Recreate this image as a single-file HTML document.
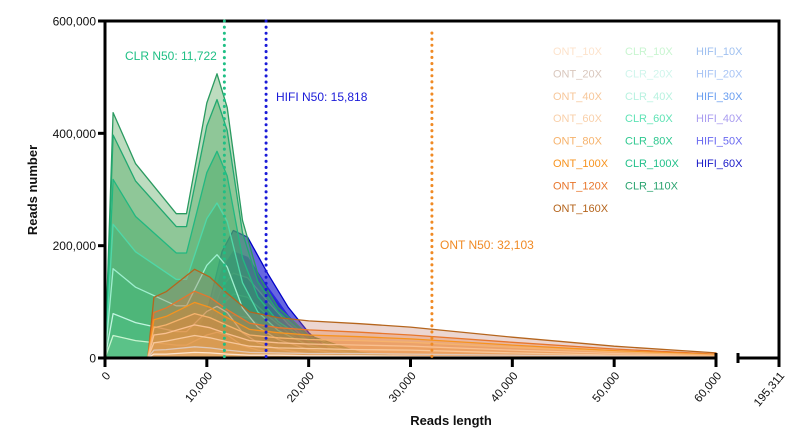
<!DOCTYPE html>
<html><head><meta charset="utf-8"><style>
body{margin:0;background:#fff;}
svg{display:block;font-family:"Liberation Sans",Arial,sans-serif;}
</style></head><body>
<svg id="chart" width="802" height="437" viewBox="0 0 802 437">
<g id="areas"></g>
<g id="axes"></g>
<g id="ann"></g>
<g id="legend"></g>
</svg>
<script>
// ---- data (values in thousands of reads) ----
const clrX = [0,800,3000,7000,8000,10000,11000,12000,13500,15000,17000,20000,25000,30000];
const clr110 = [0,437,346,257,257,454,506,446,245,150,90,40,10,0];
const clr100 = [0,397,315,234,234,413,460,405,223,136,82,36,9,0];
const clr80 = [0,318,252,187,187,330,368,324,178,109,65,29,7,0];
const clr60 = [0,238,189,140,140,248,276,243,134,82,49,22,5,0];
const clr40 = [0,159,126,93,93,165,184,162,89,55,33,15,4,0];
const clr20 = [0,79,63,47,47,83,92,81,45,27,16,7,2,0];
const clr10 = [0,40,31,23,23,41,46,41,22,14,8,4,1,0];

const ontX = [0,4200,4800,6000,8800,10300,12000,14200,17000,20000,25000,30000,40000,50000,60000,60000];
const ont160 = [0,0,108,118,158,144,115,82,72,66,61,55,37,21,9,0];
const ont120 = [0,0,81,89,119,108,86,62,54,50,46,41,28,16,7,0];
const ont100 = [0,0,68,74,99,90,72,51,45,41,38,34,23,13,6,0];
const ont80 = [0,0,54,59,79,72,58,41,36,33,31,28,19,11,5,0];
const ont60 = [0,0,41,44,59,54,43,31,27,25,23,21,14,8,3,0];
const ont40 = [0,0,27,30,40,36,29,21,18,17,15,14,9,5,2,0];
const ont20 = [0,0,14,15,20,18,14,10,9,8,8,7,5,3,1,0];
const ont10 = [0,0,7,7,10,9,7,5,5,4,4,3,2,1,1,0];

const hifiX = [8000,10000,11500,12600,14000,16000,18000,20000,22000,25000];
const hifi60 = [0,80,190,227,215,150,90,45,15,0];
const hifi50 = [0,67,158,189,179,125,75,38,12,0];
const hifi40 = [0,53,127,151,143,100,60,30,10,0];
const hifi30 = [0,40,95,114,108,75,45,23,8,0];
const hifi20 = [0,27,63,76,72,50,30,15,5,0];
const hifi10 = [0,13,32,38,36,25,15,8,3,0];

const yTicks = [0,200000,400000,600000];
const yTickLabels = ["0","200,000","400,000","600,000"];
const xTicks = [0,10000,20000,30000,40000,50000,60000,195311];
const xTickLabels = ["0","10,000","20,000","30,000","40,000","50,000","60,000","195,311"];
const n50Values = [11722,15818,32103];
const n50Labels = ["CLR  N50: 11,722","HIFI N50: 15,818","ONT N50: 32,103"];

const legendCols = [
 [["ONT_10X","#fde3cc"],["ONT_20X","#d9c7bd"],["ONT_40X","#f7c79a"],["ONT_60X","#f9d0aa"],["ONT_80X","#f6b36d"],["ONT_100X","#f7931e"],["ONT_120X","#e8762c"],["ONT_160X","#b5651d"]],
 [["CLR_10X","#c8f5d0"],["CLR_20X","#d0f5ec"],["CLR_40X","#b8f2e0"],["CLR_60X","#5fe3b5"],["CLR_80X","#2fc890"],["CLR_100X","#22c08a"],["CLR_110X","#2aa36f"]],
 [["HIFI_10X","#9fc0f0"],["HIFI_20X","#a8c4f5"],["HIFI_30X","#6a9ef0"],["HIFI_40X","#a99cf0"],["HIFI_50X","#6a6af0"],["HIFI_60X","#1a1ac8"]]
];

// ---- axis functions ----
const X0=105, X60=716, XB1=738, XEND=779, Y0=358, YTOP=21;
function xs(v){ if(v<=60000) return X0+v*(X60-X0)/60000; return XEND; }
function ys(v){ return Y0-v*(Y0-YTOP)/600000; }
const NS="http://www.w3.org/2000/svg";
function mk(tag,attrs,parent){const e=document.createElementNS(NS,tag);for(const k in attrs)e.setAttribute(k,attrs[k]);parent.appendChild(e);return e;}

const areas=document.getElementById('areas');
function drawArea(xArr,vals,fill,stroke,name,op){
  let d="M"+xs(xArr[0])+","+ys(0);
  for(let i=0;i<xArr.length;i++) d+=" L"+xs(xArr[i]).toFixed(1)+","+ys(vals[i]*1000).toFixed(1);
  d+=" L"+xs(xArr[xArr.length-1])+","+ys(0)+" Z";
  const p=mk('path',{d:d,fill:fill,'fill-opacity':op,stroke:stroke,'stroke-width':1.3,'stroke-linejoin':'round'},areas);
  
  
}
const hifiSeries=[[hifi60,"#0000c8"],[hifi50,"#2a2ae0"],[hifi40,"#6a5ae8"],[hifi30,"#3a6ee8"],[hifi20,"#7a9af0"],[hifi10,"#8fb4ee"]];
const hifiNames=["hifi-60x","hifi-50x","hifi-40x","hifi-30x","hifi-20x","hifi-10x"];
hifiSeries.forEach((s,i)=>drawArea(hifiX,s[0],"#0000cc",s[1],hifiNames[i]+"-area",0.6));
const clrSeries=[[clr110,"#2a9a60","#5aa860"],[clr100,"#22a870","#4aa85e"],[clr80,"#22b880","#3aa860"],[clr60,"#4fd8a8","#3ab070"],[clr40,"#9ff0d0","#40b878"],[clr20,"#c0f5e0","#50c088"],[clr10,"#c8f5d0","#70d098"]];
const clrNames=["clr-110x","clr-100x","clr-80x","clr-60x","clr-40x","clr-20x","clr-10x"];
clrSeries.forEach((s,i)=>drawArea(clrX,s[0],s[2],s[1],clrNames[i]+"-area",0.4));
const ontSeries=[[ont160,"#b5651d","#c07868"],[ont120,"#e8762c","#e07030"],[ont100,"#f7931e","#f08a30"],[ont80,"#f6b36d","#f09040"],[ont60,"#f9c090","#f0a050"],[ont40,"#f7c79a","#f0a860"],[ont20,"#e0c8b8","#f0b070"],[ont10,"#fde3cc","#f8c890"]];
const ontNames=["ont-160x","ont-120x","ont-100x","ont-80x","ont-60x","ont-40x","ont-20x","ont-10x"];
ontSeries.forEach((s,i)=>drawArea(ontX,s[0],s[2],s[1],ontNames[i]+"-area",0.3));

// ---- axes ----
const ax=document.getElementById('axes');
let l;
l=mk('line',{x1:X0,y1:YTOP,x2:X0,y2:Y0+1.5,stroke:'#000','stroke-width':3},ax);

l=mk('line',{x1:X0-1.5,y1:YTOP,x2:XEND+1.5,y2:YTOP,stroke:'#000','stroke-width':3},ax);

l=mk('line',{x1:X0-1.5,y1:Y0,x2:X60,y2:Y0,stroke:'#000','stroke-width':3},ax);

l=mk('line',{x1:XB1,y1:Y0,x2:XEND,y2:Y0,stroke:'#000','stroke-width':3},ax);

l=mk('line',{x1:XEND,y1:YTOP,x2:XEND,y2:Y0+1.5,stroke:'#000','stroke-width':3},ax);

[X60,XB1].forEach(bx=>{l=mk('line',{x1:bx,y1:Y0-5,x2:bx,y2:Y0+5,stroke:'#000','stroke-width':3},ax);
 });
yTicks.forEach((v,i)=>{
  l=mk('line',{x1:X0-7,y1:ys(v),x2:X0,y2:ys(v),stroke:'#000','stroke-width':3},ax);
  
  const t=mk('text',{x:X0-9,y:ys(v)+4.5,'text-anchor':'end','font-size':12,fill:'#111'},ax);
  t.textContent=yTickLabels[i];
  
});
xTicks.forEach((v,i)=>{
  const x=xs(v);
  l=mk('line',{x1:x,y1:Y0,x2:x,y2:Y0+9,stroke:'#000','stroke-width':3},ax);
  
  const t=mk('text',{x:0,y:0,'text-anchor':'end','font-size':11.5,fill:'#111',transform:`translate(${x+6},${Y0+18}) rotate(-50)`},ax);
  t.textContent=xTickLabels[i];
  
});
let t=mk('text',{x:0,y:0,'text-anchor':'middle','font-size':13,'font-weight':'bold',fill:'#111',transform:'translate(37,190) rotate(-90)'},ax);
t.textContent='Reads number';
t=mk('text',{x:451,y:425,'text-anchor':'middle','font-size':13,'font-weight':'bold',fill:'#111'},ax);
t.textContent='Reads length';

// ---- N50 annotations ----
const ann=document.getElementById('ann');
const n50Colors=["#1fbf85","#1a1ad8","#f08a24"];
const n50Pos=[[125,60],[276,101],[440,249]];
const n50Names=["clr-n50","hifi-n50","ont-n50"];
n50Values.forEach((v,i)=>{
  l=mk('line',{x1:xs(v),y1:YTOP+(i==2?12:0),x2:xs(v),y2:Y0,stroke:n50Colors[i],'stroke-width':3,'stroke-dasharray':'0.1 6','stroke-linecap':'round'},ann);
  
  const tt=mk('text',{x:n50Pos[i][0],y:n50Pos[i][1],'font-size':12,fill:n50Colors[i],'xml:space':'preserve'},ann);
  tt.textContent=n50Labels[i];
  
});

// ---- legend ----
const lg=document.getElementById('legend');
const colX=[553,625,696];
legendCols.forEach((col,ci)=>col.forEach((e,ri)=>{
  const tt=mk('text',{x:colX[ci],y:55+ri*22.4,'font-size':11,fill:e[1]},lg);
  tt.textContent=e[0];
  
}));
</script>
</body></html>
